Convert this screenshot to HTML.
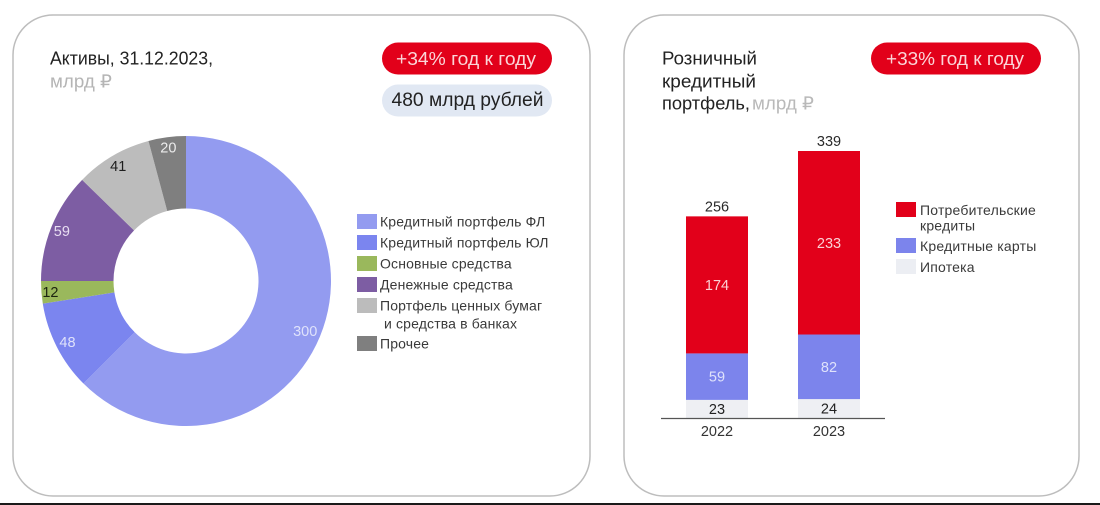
<!DOCTYPE html>
<html lang="ru">
<head>
<meta charset="utf-8">
<title>Активы и розничный кредитный портфель</title>
<style>
html,body{margin:0;padding:0;background:#fff;width:1100px;height:505px;overflow:hidden}
svg{display:block;font-family:"Liberation Sans","Noto Sans CJK SC",sans-serif}
.blur{filter:blur(0.35px)}
</style>
</head>
<body>
<svg id="chart" xmlns="http://www.w3.org/2000/svg" width="1100" height="505" viewBox="0 0 1100 505">
  <g class="blur">
    <rect x="13" y="15" width="577" height="481" rx="40" fill="#fff" stroke="#bdbdbd" stroke-width="1.5"/>
    <rect x="624" y="15" width="455" height="481" rx="40" fill="#fff" stroke="#bdbdbd" stroke-width="1.5"/>
    <rect x="0" y="503" width="1100" height="2" fill="#1a1a1a"/>

    <text x="50" y="64.500" font-size="18" fill="#222" textLength="163" lengthAdjust="spacingAndGlyphs">Активы, 31.12.2023,</text>
    <text x="50" y="87.500" font-size="18" fill="#b5b5b5" textLength="62" lengthAdjust="spacingAndGlyphs">млрд ₽</text>
    <rect x="382" y="42.500" width="170" height="32" rx="16" fill="#e2001a"/>
    <text x="466" y="65" font-size="18.500" fill="#fbd5d8" text-anchor="middle" textLength="140" lengthAdjust="spacingAndGlyphs">+34% год к году</text>
    <rect x="382" y="84.500" width="170" height="32" rx="16" fill="#e1e8f3"/>
    <text x="467.500" y="106" font-size="19" fill="#222" text-anchor="middle" textLength="152" lengthAdjust="spacingAndGlyphs">480 млрд рублей</text>

    <text x="662" y="64.500" font-size="18" fill="#222" textLength="95" lengthAdjust="spacingAndGlyphs">Розничный</text>
    <text x="662" y="87.500" font-size="18" fill="#222" textLength="94" lengthAdjust="spacingAndGlyphs">кредитный</text>
    <text x="662" y="109.500" font-size="18" fill="#222" textLength="88" lengthAdjust="spacingAndGlyphs">портфель,</text>
    <text x="752" y="109.500" font-size="18" fill="#b9b9b9" textLength="62" lengthAdjust="spacingAndGlyphs">млрд ₽</text>
    <rect x="871" y="42.500" width="170" height="32" rx="16" fill="#e2001a"/>
    <text x="955" y="65" font-size="18.500" fill="#fbd5d8" text-anchor="middle" textLength="138" lengthAdjust="spacingAndGlyphs">+33% год к году</text>

    <g id="donut"></g>
    <g id="donut-legend"></g>
    <g id="bars"></g>
    <g id="bars-legend"></g>
  </g>
</svg>
<script>
var donutValues = [300, 48, 12, 59, 41, 20];
var donutLabels = ['300', '48', '12', '59', '41', '20'];
var donutNames = [['Кредитный портфель ФЛ'], ['Кредитный портфель ЮЛ'], ['Основные средства'], ['Денежные средства'], ['Портфель ценных бумаг', ' и средства в банках'], ['Прочее']];
var barYears = ['2022', '2023'];
var mortgageValues = [23, 24];
var cardValues = [59, 82];
var consumerValues = [174, 233];
var barTotals = [256, 339];
var barSeriesNames = [['Потребительские', 'кредиты'], ['Кредитные карты'], ['Ипотека']];

var NS = 'http://www.w3.org/2000/svg';
function make(parent, tag, attrs, content) {
  var el = document.createElementNS(NS, tag);
  for (var k in attrs) { el.setAttribute(k, attrs[k]); }
  if (content !== undefined) { el.textContent = content; }
  parent.appendChild(el);
  return el;
}

/* Donut */
var donutColors = ['#939bf0', '#7b85ef', '#9ab85c', '#7d5da3', '#bcbcbc', '#7f7f7f'];
var donutTextColors = ['#dfe2fb', '#dfe2fb', '#1c2410', '#e8def2', '#1d1d1d', '#ececec'];
var labelRadius = [129, 133, 136, 134, 134, 135];
var cx = 186, cy = 281, outerR = 145, innerR = 72.5;
var donutTotal = donutValues.reduce(function (a, b) { return a + b; }, 0);
function angleOf(v) { return v / donutTotal * 2 * Math.PI; }
function polar(r, a) { return [cx + r * Math.sin(a), cy - r * Math.cos(a)]; }
var donutGroup = document.getElementById('donut');
var cursor = 0;
donutValues.forEach(function (v, i) {
  var a0 = cursor, a1 = cursor + angleOf(v);
  cursor = a1;
  var large = (a1 - a0) > Math.PI ? 1 : 0;
  var p0 = polar(outerR, a0), p1 = polar(outerR, a1), p2 = polar(innerR, a1), p3 = polar(innerR, a0);
  var d = 'M' + p0[0] + ' ' + p0[1] + 'A' + outerR + ' ' + outerR + ' 0 ' + large + ' 1 ' + p1[0] + ' ' + p1[1] +
          'L' + p2[0] + ' ' + p2[1] + 'A' + innerR + ' ' + innerR + ' 0 ' + large + ' 0 ' + p3[0] + ' ' + p3[1] + 'Z';
  var slice = make(donutGroup, 'path', { d: d, fill: donutColors[i] });
  
  
  var mid = (a0 + a1) / 2;
  var lp = polar(labelRadius[i], mid);
  var label = make(donutGroup, 'text', { x: lp[0], y: lp[1] + 5.5, 'font-size': 14.5, fill: donutTextColors[i], 'text-anchor': 'middle' }, donutLabels[i]);
  
  
});

/* Donut legend */
var legendGroup = document.getElementById('donut-legend');
var legendY = 213;
var legendSteps = [21, 21, 21, 21, 38, 0];
donutNames.forEach(function (lines, i) {
  var sw = make(legendGroup, 'rect', { x: 357, y: legendY + 1, width: 20, height: 15, fill: donutColors[i] });
  
  
  lines.forEach(function (line, j) {
    var t = make(legendGroup, 'text', { x: j ? 384 : 380, y: legendY + 13.5 + j * 18, 'font-size': 14, fill: '#3a3a3a', 'letter-spacing': 0.15 }, line.trim());
    
    
  });
  legendY += legendSteps[i];
});

/* Stacked bars */
var barGroup = document.getElementById('bars');
var baseY = 418, pxPerUnit = 267 / 339, barW = 62;
var barLeft = [686, 798];
function yScale(v) { return baseY - v * pxPerUnit; }
var stacks = [
  { key: 'mortgage', values: mortgageValues, color: '#eeeff3', text: '#222' },
  { key: 'cards', values: cardValues, color: '#7c84ec', text: '#dfe2fb' },
  { key: 'consumer', values: consumerValues, color: '#e2001a', text: '#fbd0d4' }
];
barYears.forEach(function (year, i) {
  var acc = 0;
  stacks.forEach(function (s) {
    var v = s.values[i];
    var yTop = yScale(acc + v), yBot = yScale(acc);
    var r = make(barGroup, 'rect', { x: barLeft[i], y: yTop, width: barW, height: yBot - yTop, fill: s.color });
    
    
    var t = make(barGroup, 'text', { x: barLeft[i] + barW / 2, y: (yTop + yBot) / 2 + 5, 'font-size': 14.5, fill: s.text, 'text-anchor': 'middle' }, String(v));
    
    
    acc += v;
  });
  var total = make(barGroup, 'text', { x: barLeft[i] + barW / 2, y: yScale(barTotals[i]) - 5, 'font-size': 14.5, fill: '#2a2a2a', 'text-anchor': 'middle' }, String(barTotals[i]));
  
  
  var tick = make(barGroup, 'text', { x: barLeft[i] + barW / 2, y: 436, 'font-size': 14.5, fill: '#333', 'text-anchor': 'middle' }, year);
  
  
});
var axis = make(barGroup, 'line', { x1: 661, x2: 885, y1: 418.5, y2: 418.5, stroke: '#555', 'stroke-width': 1.3 });



/* Bar legend */
var barLegendGroup = document.getElementById('bars-legend');
var barLegendColors = ['#e2001a', '#7c84ec', '#eceef3'];
var barLegendY = [202, 238, 259];
barSeriesNames.forEach(function (lines, i) {
  var sw = make(barLegendGroup, 'rect', { x: 896, y: barLegendY[i], width: 20, height: 15, fill: barLegendColors[i] });
  
  
  lines.forEach(function (line, j) {
    var t = make(barLegendGroup, 'text', { x: 920, y: barLegendY[i] + 13 + j * 15.5, 'font-size': 14, fill: '#3a3a3a', 'letter-spacing': 0.2 }, line);
    
    
  });
});
</script>
</body>
</html>
